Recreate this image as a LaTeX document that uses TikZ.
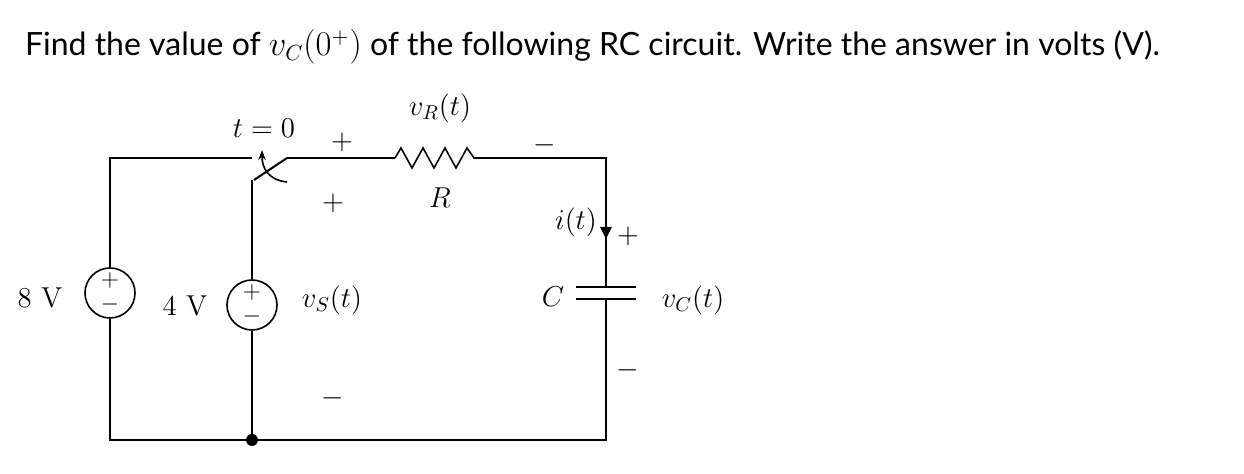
\documentclass[tikz,border=0pt]{standalone}
\usepackage{fontspec}
\newfontfamily\titlefont{Lato}
\usetikzlibrary{arrows.meta, positioning}
\tikzset{
	wire/.style={thick,draw=black},
	source/.style={circle, thick, draw=black, minimum size=25pt, inner sep=0pt},
	sign/.style={font=\large, inner sep=0pt},
	lbl/.style={font=\Large}
}
\begin{document}
\begin{tikzpicture}[x=0.5pt, y=-0.5pt]
		\useasboundingbox (0,0) rectangle (1244,474);

		% title
		\node[anchor=west, font=\titlefont\fontsize{16}{19}\selectfont] (title) at (18,47) {Find the value of $v_C\bigl(0^+\bigr)$ of the following RC circuit. Write the answer in volts (V).};

		% corners and terminals
		\coordinate (tl) at (110,158);
		\coordinate (bl) at (110,440);
		\coordinate (sa) at (252,158);
		\coordinate (sb) at (287,158);
		\coordinate (sc) at (252,180);
		\coordinate (ra) at (395,158);
		\coordinate (rb) at (480,158);
		\coordinate (tr) at (606,158);
		\coordinate (br) at (606,440);
		\coordinate (ca) at (606,287);
		\coordinate (cb) at (606,299);

		% sources
		\node[source] (s8) at (110,293) {};
		\node[source] (s4) at (252,305) {};
		\node[sign] at ([yshift=6pt]s8.center) {$+$};
		\node[sign] at ([yshift=-6pt]s8.center) {$-$};
		\node[sign] at ([yshift=6pt]s4.center) {$+$};
		\node[sign] at ([yshift=-6pt]s4.center) {$-$};

		% wires
		\draw[wire] (s8.north) -- (tl) -- (sa);
		\draw[wire] (s8.south) -- (bl) -- (br) -- (cb);
		\draw[wire] (s4.north) -- (sc);
		\draw[wire] (s4.south) -- (252,440);
		\draw[wire] (sb) -- (ra);
		\draw[wire] (rb) -- (tr) -- (ca);
		\fill (252,440) circle (3pt);

		% switch
		\draw[wire, line width=1pt] (254,180) -- (287,158);
		\draw[thick, -{Stealth[length=5pt]}] (287,182) .. controls (268,180) and (262,168) .. (262,150);

		% resistor
		\draw[wire] (ra) -- (401,148) -- (412,168) -- (423,148) -- (434,168) -- (445,148) -- (456,168) -- (467,148) -- (474,158) -- (rb);

		% capacitor
		\draw[wire] (576,287) -- (636,287);
		\draw[wire] (576,299) -- (636,299);

		% current arrow
		\fill (600,227) -- (612,227) -- (606,239) -- cycle;

		% labels
		\node[lbl] (l8) at (40,298) {$8$ V};
		\node[lbl] (l4) at (185,306) {$4$ V};
		\node[lbl] (lt) at (264,128) {$t=0$};
		\node[lbl] at (342,142) {$+$};
		\node[lbl] at (545,145) {$-$};
		\node[lbl] (lvr) at (440,108) {$v_R(t)$};
		\node[lbl] (lr) at (440,198) {$R$};
		\node[lbl] at (333,203) {$+$};
		\node[lbl] (lvs) at (332,300) {$v_S(t)$};
		\node[lbl] at (333,398) {$-$};
		\node[lbl] (li) at (576,222) {$i(t)$};
		\node[lbl] at (628,236) {$+$};
		\node[lbl] (lc) at (553,297) {$C$};
		\node[lbl] (lvc) at (693,300) {$v_C(t)$};
		\node[lbl] at (628,370) {$-$};

	\end{tikzpicture}
\end{document}
